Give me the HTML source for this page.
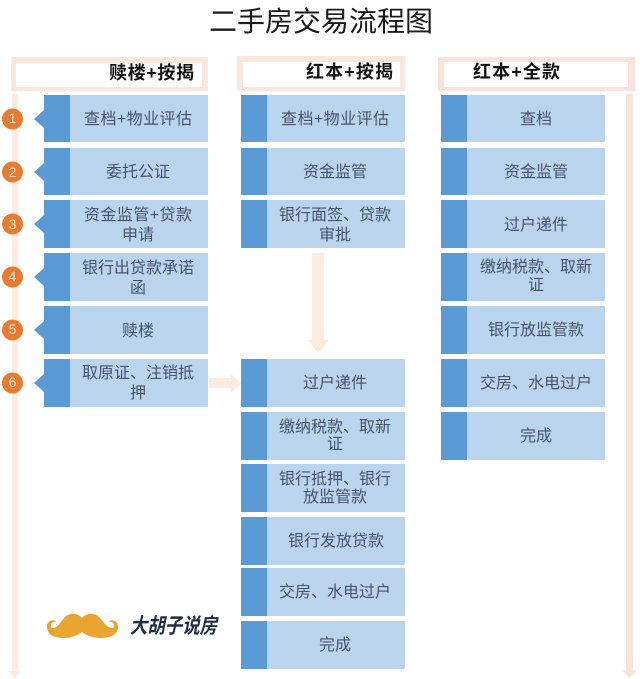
<!DOCTYPE html>
<html lang="zh">
<head>
<meta charset="utf-8">
<title>二手房交易流程图</title>
<style>
html,body{margin:0;padding:0;background:#fff;width:640px;height:679px;overflow:hidden}
svg{display:block;filter:blur(0.35px)}
text{font-family:"Liberation Sans","Noto Sans CJK SC",sans-serif}
.t{font-size:16px;fill:#44546a;text-anchor:middle}
.h{font-size:18px;font-weight:700;fill:#111}
.n{font-size:14px;fill:#fbe3cf;text-anchor:middle}
.l{fill:#bad4ee}
.d{fill:#5b9bd5}
.o{fill:#e97a30}
.b{fill:#fbe8dc}
.a{fill:#fdebe0}
</style>
</head>
<body>
<svg width="640" height="679" viewBox="0 0 640 679" xmlns="http://www.w3.org/2000/svg">
<rect width="640" height="679" fill="#fff"/>
<text x="321" y="31" text-anchor="middle" font-size="28" textLength="224" fill="#1a1a1a">二手房交易流程图</text>

<!-- headers -->
<rect x="11" y="57" width="197" height="34" class="b"/><rect x="16" y="63" width="186" height="24" fill="#fff"/>
<rect x="237" y="56" width="168" height="35" class="b"/><rect x="243" y="62" width="157" height="25" fill="#fff"/>
<rect x="438" y="57" width="197" height="34" fill="#fce3da"/><rect x="444" y="62" width="184" height="25" fill="#fff"/>
<text x="109" y="79" class="h" textLength="85">赎楼+按揭</text>
<text x="306" y="78" class="h" textLength="87">红本+按揭</text>
<text x="473" y="78" class="h" textLength="87">红本+全款</text>

<!-- side arrows -->
<rect x="12" y="94" width="6" height="578" class="a"/><path d="M9 671H21L15 678Z" class="a"/>
<rect x="626" y="94" width="7" height="577" fill="#fce3da"/><path d="M622 670H637L629.500 678Z" fill="#fce3da"/>

<!-- connector arrows -->
<path d="M312 253H324V340H329L318 353L308 340H312Z" class="a"/>
<path d="M209 378H231V374L241 383.500L231 393V388H209Z" class="a"/>

<!-- left column -->
<rect x="44" y="95" width="164" height="47" class="l"/><rect x="44" y="95" width="26" height="47" class="d"/>
<rect x="44" y="148" width="164" height="47" class="l"/><rect x="44" y="148" width="26" height="47" class="d"/>
<rect x="44" y="200" width="164" height="48" class="l"/><rect x="44" y="200" width="26" height="48" class="d"/>
<rect x="44" y="253" width="164" height="48" class="l"/><rect x="44" y="253" width="26" height="48" class="d"/>
<rect x="44" y="306" width="164" height="48" class="l"/><rect x="44" y="306" width="26" height="48" class="d"/>
<rect x="44" y="359" width="164" height="48" class="l"/><rect x="44" y="359" width="26" height="48" class="d"/>
<path d="M44 110V128L34 119Z" class="d"/>
<path d="M44 163V181L34 172Z" class="d"/>
<path d="M44 215V233L34 224Z" class="d"/>
<path d="M44 268V286L34 277Z" class="d"/>
<path d="M44 321V339L34 330Z" class="d"/>
<path d="M44 374V392L34 383Z" class="d"/>
<circle cx="12.500" cy="119" r="10.500" class="o"/><text x="12.500" y="123" class="n">1</text>
<circle cx="12.500" cy="172" r="10.500" class="o"/><text x="12.500" y="177" class="n">2</text>
<circle cx="12.500" cy="224" r="10.500" class="o"/><text x="12.500" y="229" class="n">3</text>
<circle cx="12.500" cy="277" r="10.500" class="o"/><text x="12.500" y="281" class="n">4</text>
<circle cx="12.500" cy="330" r="10.500" class="o"/><text x="12.500" y="334" class="n">5</text>
<circle cx="12.500" cy="383" r="10.500" class="o"/><text x="12.500" y="387" class="n">6</text>
<text x="138" y="124" class="t" textLength="108">查档+物业评估</text>
<text x="138" y="177" class="t">委托公证</text>
<text x="138" y="220" class="t" textLength="108">资金监管+贷款</text>
<text x="138" y="240" class="t">申请</text>
<text x="138" y="273" class="t">银行出贷款承诺</text>
<text x="138" y="293" class="t">函</text>
<text x="138" y="336" class="t">赎楼</text>
<text x="138" y="378" class="t">取原证、注销抵</text>
<text x="138" y="398" class="t">押</text>

<!-- middle column -->
<rect x="241" y="95" width="164" height="47" class="l"/><rect x="241" y="95" width="26" height="47" class="d"/>
<rect x="241" y="148" width="164" height="47" class="l"/><rect x="241" y="148" width="26" height="47" class="d"/>
<rect x="241" y="200" width="164" height="48" class="l"/><rect x="241" y="200" width="26" height="48" class="d"/>
<rect x="241" y="359" width="164" height="48" class="l"/><rect x="241" y="359" width="26" height="48" class="d"/>
<rect x="241" y="412" width="164" height="48" class="l"/><rect x="241" y="412" width="26" height="48" class="d"/>
<rect x="241" y="464" width="164" height="48" class="l"/><rect x="241" y="464" width="26" height="48" class="d"/>
<rect x="241" y="517" width="164" height="48" class="l"/><rect x="241" y="517" width="26" height="48" class="d"/>
<rect x="241" y="568" width="164" height="48" class="l"/><rect x="241" y="568" width="26" height="48" class="d"/>
<rect x="241" y="621" width="164" height="48" class="l"/><rect x="241" y="621" width="26" height="48" class="d"/>
<text x="335" y="124" class="t" textLength="108">查档+物业评估</text>
<text x="335" y="177" class="t">资金监管</text>
<text x="335" y="220" class="t">银行面签、贷款</text>
<text x="335" y="240" class="t">审批</text>
<text x="335" y="388" class="t">过户递件</text>
<text x="335" y="432" class="t">缴纳税款、取新</text>
<text x="335" y="449" class="t">证</text>
<text x="335" y="484" class="t">银行抵押、银行</text>
<text x="335" y="502" class="t">放监管款</text>
<text x="336" y="546" class="t">银行发放贷款</text>
<text x="335" y="597" class="t">交房、水电过户</text>
<text x="335" y="650" class="t">完成</text>

<!-- right column -->
<rect x="441" y="95" width="164" height="47" class="l"/><rect x="441" y="95" width="26" height="47" class="d"/>
<rect x="441" y="148" width="164" height="47" class="l"/><rect x="441" y="148" width="26" height="47" class="d"/>
<rect x="441" y="200" width="164" height="48" class="l"/><rect x="441" y="200" width="26" height="48" class="d"/>
<rect x="441" y="253" width="164" height="48" class="l"/><rect x="441" y="253" width="26" height="48" class="d"/>
<rect x="441" y="306" width="164" height="48" class="l"/><rect x="441" y="306" width="26" height="48" class="d"/>
<rect x="441" y="359" width="164" height="48" class="l"/><rect x="441" y="359" width="26" height="48" class="d"/>
<rect x="441" y="412" width="164" height="48" class="l"/><rect x="441" y="412" width="26" height="48" class="d"/>
<text x="536" y="124" class="t">查档</text>
<text x="536" y="177" class="t">资金监管</text>
<text x="536" y="230" class="t">过户递件</text>
<text x="536" y="272" class="t">缴纳税款、取新</text>
<text x="536" y="290" class="t">证</text>
<text x="536" y="335" class="t">银行放监管款</text>
<text x="536" y="388" class="t">交房、水电过户</text>
<text x="536" y="441" class="t">完成</text>

<!-- logo -->
<path d="M82 618C78 613 70 612 65 617C60 622 58 628 53 628C51 628 50 626 52 623C54 621 57 622 57 622C53 618 46 621 47 628C48 636 56 638 64 638C72 638 78 635 82 632C86 635 92 638 100 638C108 638 117 636 118 628C119 621 112 618 108 622C108 622 111 621 113 623C115 626 114 628 112 628C107 628 104 622 99 617C94 612 86 613 82 618Z" fill="#e9a52f"/>
<text x="130" y="633" font-size="21" font-weight="700" font-style="italic" fill="#1f2d42" textLength="87" lengthAdjust="spacingAndGlyphs">大胡子说房</text>
</svg>
</body>
</html>
